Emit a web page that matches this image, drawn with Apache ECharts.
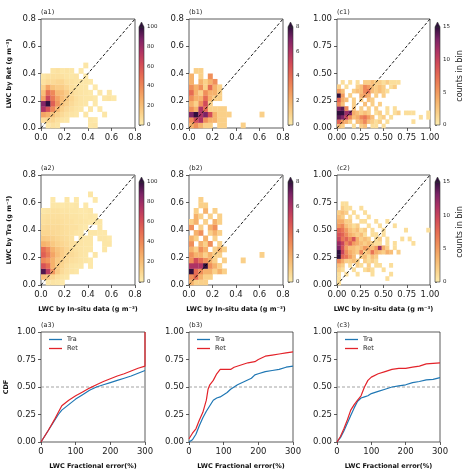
<!DOCTYPE html>
<html>
<head>
<meta charset="utf-8">
<script src="https://cdn.jsdelivr.net/npm/echarts@6/dist/echarts.min.js"></script>
<style>
  html, body { margin: 0; background: #fff; }
  #chart { width: 474px; height: 474px; }
</style>
</head>
<body>
<div id="chart"></div>
<script>
// bin width of the 2d histograms (g m-3)
const BIN = 0.04;

// counts per bin, row 0 = lowest y bin, column 0 = lowest x bin
const a1Counts = [
  [0, 3, 5, 4, 0, 0, 0, 0, 0, 0, 3, 4],
  [8, 10, 10, 6, 4, 3, 0, 0, 0, 0, 3, 2],
  [30, 25, 18, 12, 8, 5, 4, 3, 0, 3, 0, 0, 0, 3],
  [75, 60, 40, 22, 12, 8, 6, 4, 3, 0, 3, 0, 2],
  [85, 100, 55, 35, 18, 12, 8, 5, 4, 3, 0, 2],
  [30, 65, 45, 30, 20, 15, 10, 6, 4, 3, 3, 2, 0, 3, 4, 2],
  [20, 50, 40, 22, 20, 14, 8, 5, 4, 3, 2, 0, 3, 0, 3],
  [12, 30, 18, 14, 14, 10, 6, 4, 3, 3, 0, 2],
  [5, 8, 8, 10, 10, 6, 5, 4, 3, 3, 2],
  [3, 5, 6, 6, 5, 4, 3, 4, 0, 2],
  [0, 0, 4, 5, 3, 4, 3, 0, 2],
  [0, 0, 0, 0, 0, 0, 0, 0, 0, 3]
];
const b1Counts = [
  [2, 3, 2, 1, 1, 0, 1, 1, 0, 0, 0, 1],
  [3, 5, 6, 3, 2, 2, 1, 1],
  [7, 8, 6, 7, 5, 2, 1, 1, 1, 0, 0, 0, 0, 0, 0, 1],
  [3, 2, 6, 4, 1, 1, 1, 1],
  [2, 1, 3, 5, 1],
  [3, 2, 2, 4, 2, 1, 1],
  [4, 2, 1, 3, 2, 2, 1],
  [3, 2, 3, 1, 4, 2, 1],
  [2, 0, 2, 1, 2, 3],
  [2, 0, 1, 0, 3],
  [0, 1, 1]
];
const c1Counts = [
  [3, 2, 0, 0, 1, 0, 2, 3, 0, 1, 1, 0, 1],
  [8, 5, 4, 2, 0, 3, 4, 6, 3, 2, 1, 2, 0, 1, 0, 0, 0, 0, 0, 0, 1],
  [14, 13, 10, 6, 3, 4, 6, 7, 5, 3, 0, 1, 2, 0, 1, 0, 0, 0, 0, 0, 0, 0, 1, 0, 1],
  [15, 15, 12, 13, 4, 3, 2, 3, 2, 0, 1, 2, 0, 1, 0, 1, 2, 0, 1, 1, 1, 0, 0, 0, 1],
  [13, 14, 6, 0, 3, 0, 2, 0, 2, 0, 2, 0, 0, 1, 0, 1],
  [6, 3, 0, 0, 2, 0, 0, 3, 0, 2, 0, 2],
  [8, 4, 3, 0, 2, 0, 2, 0, 3, 2],
  [15, 5, 0, 2, 0, 0, 4, 5, 4, 0, 2, 0, 2],
  [5, 3, 0, 0, 2, 3, 3, 6, 7, 3, 2, 3, 2, 1],
  [2, 0, 1, 0, 0, 2, 3, 6, 5, 3, 2, 3, 2, 0, 1, 2],
  [0, 1, 0, 1, 0, 1, 0, 2, 2, 3, 2, 2, 1, 2, 1, 1, 1]
];
const a2Counts = [
  [0, 3, 4, 3, 2],
  [20, 15, 10, 6, 4, 3],
  [95, 70, 35, 15, 8, 5, 4, 3],
  [60, 50, 25, 15, 10, 6, 4, 3, 3, 0, 2],
  [40, 35, 25, 15, 12, 8, 6, 5, 4, 3, 2],
  [55, 45, 30, 20, 14, 10, 8, 6, 4, 3, 0, 3],
  [50, 40, 25, 18, 14, 10, 7, 5, 4, 3, 3, 0, 0, 3],
  [25, 22, 16, 12, 10, 8, 6, 5, 4, 3, 3, 0, 0, 3, 3],
  [15, 14, 12, 10, 8, 7, 5, 0, 4, 3, 3, 0, 3, 3, 2],
  [10, 10, 9, 8, 7, 6, 5, 4, 3, 0, 3, 3, 2, 2],
  [8, 9, 8, 8, 7, 6, 5, 5, 3, 2, 0, 0, 3],
  [6, 7, 7, 7, 6, 5, 5, 4, 4, 3, 2, 2, 3],
  [5, 6, 6, 6, 5, 5, 4, 4, 3, 2, 3, 2],
  [3, 4, 5, 5, 4, 4, 3, 3, 2, 2, 3],
  [0, 0, 3, 3, 2, 3, 2, 3, 0, 2],
  [0, 0, 2, 0, 0, 3, 0, 2, 0, 0, 0, 2],
  [0, 0, 0, 0, 0, 0, 0, 0, 0, 0, 3]
];
const b2Counts = [
  [2, 1, 1, 1],
  [3, 4, 2, 1, 1],
  [8, 4, 3, 2, 2, 1, 2, 1],
  [6, 6, 6, 8, 3, 2, 1],
  [3, 5, 4, 3, 2, 1, 0, 1, 0, 0, 0, 1],
  [3, 2, 2, 1, 2, 1, 1, 0, 0, 0, 0, 0, 0, 0, 0, 1],
  [2, 1, 3, 2, 0, 1, 2, 1],
  [3, 0, 2, 1, 3, 0, 1],
  [2, 1, 0, 2, 0, 1],
  [0, 2, 3, 0, 1, 2, 1],
  [3, 0, 1, 0, 2, 3],
  [1, 2, 0, 1, 0, 2, 1],
  [0, 2, 1, 0, 1, 0, 1],
  [0, 1, 0, 2, 0, 1],
  [0, 0, 1, 1],
  [0, 0, 1]
];
const c2Counts = [
  [1],
  [1, 0, 0, 0, 0, 0, 0, 0, 0, 0, 0, 0, 0, 1],
  [1, 0, 1, 0, 0, 1, 0, 0, 0, 1, 0, 0, 0, 0, 1],
  [2, 1, 0, 0, 1, 0, 0, 1, 2, 1, 0, 0, 1],
  [3, 2, 0, 1, 0, 2, 1, 0, 2, 0, 1, 1, 0, 0, 1],
  [6, 4, 2, 2, 3, 2, 0, 2, 1, 2, 1],
  [15, 8, 7, 5, 3, 0, 2, 3, 1, 3, 2],
  [15, 10, 6, 4, 3, 2, 6, 2, 3, 7, 4, 3, 2, 4, 3, 0, 2],
  [13, 9, 5, 3, 3, 2, 3, 5, 4, 3, 5, 12, 4, 2, 0, 1],
  [12, 10, 6, 8, 5, 4, 3, 2, 3, 2, 1, 1, 0, 1, 0, 1, 0, 0, 0, 0, 1],
  [10, 7, 8, 6, 9, 4, 2, 3, 2, 0, 1, 2, 0, 1, 0, 0, 0, 1, 0, 1],
  [9, 8, 6, 4, 3, 2, 3, 1, 0, 1, 1, 0, 1],
  [8, 7, 5, 3, 2, 3, 1, 2, 0, 1, 0, 0, 1, 0, 0, 0, 0, 0, 1, 0, 0, 0, 0, 0, 1],
  [5, 6, 3, 2, 1, 2, 0, 0, 1, 0, 0, 1, 0, 0, 0, 1],
  [4, 4, 2, 2, 0, 0, 1, 1, 0, 0, 1, 0, 0, 1],
  [3, 2, 0, 1, 0, 1, 0, 0, 1],
  [2, 3, 2, 0, 1, 0, 0, 1],
  [0, 2, 1, 1, 0, 0, 1],
  [0, 1, 1]
];

// CDF of the fractional error, [error %, cdf]
const a3Tra = [[0, 0], [20, 0.1], [40, 0.2], [50, 0.25], [60, 0.29], [80, 0.34], [100, 0.39], [120, 0.43], [140, 0.47], [160, 0.5], [180, 0.52], [200, 0.54], [220, 0.56], [240, 0.58], [260, 0.6], [280, 0.625], [300, 0.65]];
const a3Ret = [[0, 0], [20, 0.1], [40, 0.21], [50, 0.27], [60, 0.33], [80, 0.38], [100, 0.42], [120, 0.455], [140, 0.49], [160, 0.52], [180, 0.55], [200, 0.575], [220, 0.6], [240, 0.62], [260, 0.645], [280, 0.67], [300, 0.69], [300, 1]];
const b3Tra = [[0, 0], [10, 0.02], [20, 0.07], [30, 0.15], [40, 0.22], [50, 0.28], [60, 0.33], [70, 0.38], [80, 0.4], [90, 0.41], [100, 0.43], [110, 0.45], [120, 0.48], [130, 0.5], [140, 0.52], [160, 0.55], [180, 0.58], [190, 0.61], [200, 0.62], [220, 0.64], [240, 0.65], [260, 0.66], [280, 0.68], [300, 0.69]];
const b3Ret = [[0, 0.03], [10, 0.08], [20, 0.12], [30, 0.2], [40, 0.27], [50, 0.38], [55, 0.48], [60, 0.52], [70, 0.56], [80, 0.62], [90, 0.66], [100, 0.66], [120, 0.66], [130, 0.68], [150, 0.7], [170, 0.72], [190, 0.73], [200, 0.75], [220, 0.78], [240, 0.79], [260, 0.8], [280, 0.81], [300, 0.82]];
const c3Tra = [[0, 0], [10, 0.04], [20, 0.1], [30, 0.17], [40, 0.24], [50, 0.31], [60, 0.37], [70, 0.4], [80, 0.41], [90, 0.42], [100, 0.44], [120, 0.46], [140, 0.48], [160, 0.5], [180, 0.51], [200, 0.52], [220, 0.54], [240, 0.55], [260, 0.565], [280, 0.57], [300, 0.585]];
const c3Ret = [[0, 0], [10, 0.05], [20, 0.12], [30, 0.2], [40, 0.29], [50, 0.34], [60, 0.38], [70, 0.42], [80, 0.5], [90, 0.56], [100, 0.59], [120, 0.62], [140, 0.64], [160, 0.66], [180, 0.67], [200, 0.67], [220, 0.68], [240, 0.69], [260, 0.71], [280, 0.715], [300, 0.72]];

// colormap, light -> dark
const CMAP = ['#fdedb0', '#fad089', '#f6b26c', '#f08f5a', '#e66c53', '#d24b58', '#ae3364', '#7c2366', '#2f0f3d'];
const TRA_COLOR = '#1f77b4';
const RET_COLOR = '#e3232a';

const heatPanels = [
  { label: '(a1)', rows: a1Counts, range: 0.8, step: 0.2, dec: 1, cmax: 100, cstep: 20, yName: 'LWC by Ret (g m⁻³)', xName: '' },
  { label: '(b1)', rows: b1Counts, range: 0.8, step: 0.2, dec: 1, cmax: 8, cstep: 2, yName: '', xName: '' },
  { label: '(c1)', rows: c1Counts, range: 1, step: 0.25, dec: 2, cmax: 15, cstep: 5, yName: '', xName: '' },
  { label: '(a2)', rows: a2Counts, range: 0.8, step: 0.2, dec: 1, cmax: 100, cstep: 20, yName: 'LWC by Tra (g m⁻³)', xName: 'LWC by In-situ data (g m⁻³)' },
  { label: '(b2)', rows: b2Counts, range: 0.8, step: 0.2, dec: 1, cmax: 8, cstep: 2, yName: '', xName: 'LWC by In-situ data (g m⁻³)' },
  { label: '(c2)', rows: c2Counts, range: 1, step: 0.25, dec: 2, cmax: 15, cstep: 5, yName: '', xName: 'LWC by In-situ data (g m⁻³)' }
];
const cdfPanels = [
  { label: '(a3)', tra: a3Tra, ret: a3Ret, yName: 'CDF' },
  { label: '(b3)', tra: b3Tra, ret: b3Ret, yName: '' },
  { label: '(c3)', tra: c3Tra, ret: c3Ret, yName: '' }
];

// [left, top, width, height] in px
const heatBoxes = [[41, 19, 94, 109], [189, 19, 94, 109], [337, 19, 93, 109], [41, 175, 94, 110], [189, 175, 94, 110], [337, 175, 93, 110]];
const barBoxes = [[139, 27, 5, 98], [288, 27, 5, 98], [435, 27, 5, 98], [139, 182, 5, 100], [288, 182, 5, 100], [435, 182, 5, 100]];
const cdfBoxes = [[41, 332, 104, 110], [189, 332, 104, 110], [337, 332, 103, 110]];

function toCells(rows) {
  const out = [];
  rows.forEach((row, j) => {
    row.forEach((c, i) => {
      if (c > 0) out.push([i * BIN, j * BIN, c]);
    });
  });
  return out;
}

function renderCell(params, api) {
  const x = api.value(0), y = api.value(1);
  const p0 = api.coord([x, y + BIN]);
  const p1 = api.coord([x + BIN, y]);
  return {
    type: 'rect',
    shape: { x: p0[0], y: p0[1], width: p1[0] - p0[0] + 0.3, height: p1[1] - p0[1] + 0.3 },
    style: { fill: api.visual('color') }
  };
}

function renderBar(params, api) {
  const bl = api.coord([0, 0]);
  const tr = api.coord([1, api.value(1)]);
  const stops = CMAP.map((c, k) => ({ offset: k / (CMAP.length - 1), color: c }));
  return {
    type: 'group',
    children: [
      {
        type: 'rect',
        shape: { x: bl[0], y: tr[1], width: tr[0] - bl[0], height: bl[1] - tr[1] },
        style: { fill: new echarts.graphic.LinearGradient(0, 1, 0, 0, stops), stroke: '#333', lineWidth: 0.6 }
      },
      {
        type: 'polygon',
        shape: { points: [[bl[0], tr[1]], [tr[0], tr[1]], [(bl[0] + tr[0]) / 2, tr[1] - 5]] },
        style: { fill: CMAP[CMAP.length - 1], stroke: '#333', lineWidth: 0.6 }
      }
    ]
  };
}

function valueAxis(gi, min, max, step, dec, name, gap, margin) {
  return {
    type: 'value', gridIndex: gi, min: min, max: max, interval: step,
    name: name, nameLocation: 'middle', nameGap: gap,
    nameTextStyle: { fontSize: 6.5, fontWeight: 'bold', color: '#111' },
    axisLine: { show: false },
    axisTick: { show: true, length: 3, lineStyle: { color: '#333', width: 0.8 } },
    axisLabel: { fontSize: 8.5, color: '#222', margin: margin, formatter: v => v.toFixed(dec) },
    splitLine: { show: false }
  };
}

const grid = [], xAxis = [], yAxis = [], series = [], visualMap = [], title = [], legend = [];

// 2d histograms
heatPanels.forEach((p, i) => {
  const [l, t, w, h] = heatBoxes[i];
  grid.push({ left: l, top: t, width: w, height: h, show: true, borderColor: '#333', borderWidth: 0.8 });
  xAxis.push(valueAxis(i, 0, p.range, p.step, p.dec, p.xName, 21, 5));
  yAxis.push(valueAxis(i, 0, p.range, p.step, p.dec, p.yName, 28, 5));
  visualMap.push({ type: 'continuous', show: false, seriesIndex: series.length, dimension: 2, min: 0, max: p.cmax, inRange: { color: CMAP } });
  series.push({ type: 'custom', xAxisIndex: i, yAxisIndex: i, renderItem: renderCell, data: toCells(p.rows), silent: true });
  series.push({
    type: 'line', xAxisIndex: i, yAxisIndex: i, data: [[0, 0], [p.range, p.range]],
    symbol: 'none', silent: true, z: 5,
    lineStyle: { color: '#000', width: 0.9, type: [3, 2] }
  });
  title.push({ text: p.label, left: l, top: t - 10, padding: 0, textStyle: { fontSize: 6.5, fontWeight: 'normal', color: '#222' } });
});

// CDF panels
cdfPanels.forEach((p, k) => {
  const gi = 6 + k;
  const [l, t, w, h] = cdfBoxes[k];
  grid.push({ left: l, top: t, width: w, height: h, show: true, borderColor: '#333', borderWidth: 0.8 });
  xAxis.push(valueAxis(gi, 0, 300, 100, 0, 'LWC Fractional error(%)', 21, 5));
  yAxis.push(valueAxis(gi, 0, 1, 0.25, 2, p.yName, 31, 5));
  series.push({
    type: 'line', xAxisIndex: gi, yAxisIndex: gi, data: [[0, 0.5], [300, 0.5]],
    symbol: 'none', silent: true, lineStyle: { color: '#999', width: 0.9, type: [3, 2] }
  });
  series.push({ name: 'Tra', type: 'line', xAxisIndex: gi, yAxisIndex: gi, data: p.tra, symbol: 'none', color: TRA_COLOR, lineStyle: { width: 1.2 } });
  series.push({ name: 'Ret', type: 'line', xAxisIndex: gi, yAxisIndex: gi, data: p.ret, symbol: 'none', color: RET_COLOR, lineStyle: { width: 1.2 } });
  legend.push({
    data: ['Tra', 'Ret'], orient: 'vertical', left: l + 8, top: t + 4, padding: 0,
    icon: 'rect', itemWidth: 13, itemHeight: 1.3, itemGap: 2, itemTextGap: 5, selectedMode: false,
    textStyle: { fontSize: 6.5, color: '#222' }
  });
  title.push({ text: p.label, left: l, top: t - 10, padding: 0, textStyle: { fontSize: 6.5, fontWeight: 'normal', color: '#222' } });
});

// colorbars
heatPanels.forEach((p, i) => {
  const gi = 9 + i;
  const [l, t, w, h] = barBoxes[i];
  grid.push({ left: l, top: t, width: w, height: h });
  xAxis.push({ type: 'value', gridIndex: gi, min: 0, max: 1, show: false });
  yAxis.push({
    type: 'value', gridIndex: gi, min: 0, max: p.cmax, interval: p.cstep, position: 'right',
    name: i % 3 === 2 ? 'counts in bin' : '', nameLocation: 'middle', nameRotate: 90, nameGap: 16,
    nameTextStyle: { fontSize: 8, color: '#222' },
    axisLine: { show: false },
    axisTick: { show: true, length: 2, lineStyle: { color: '#333', width: 0.6 } },
    axisLabel: { fontSize: 5.5, color: '#222', margin: 3 },
    splitLine: { show: false }
  });
  series.push({ type: 'custom', xAxisIndex: gi, yAxisIndex: gi, renderItem: renderBar, data: [[0, p.cmax]], silent: true });
});

const chart = echarts.init(document.getElementById('chart'));
chart.setOption({
  animation: false,
  backgroundColor: '#fff',
  textStyle: { fontFamily: 'DejaVu Sans' },
  title: title,
  legend: legend,
  grid: grid,
  xAxis: xAxis,
  yAxis: yAxis,
  visualMap: visualMap,
  series: series
});
</script>
</body>
</html>
